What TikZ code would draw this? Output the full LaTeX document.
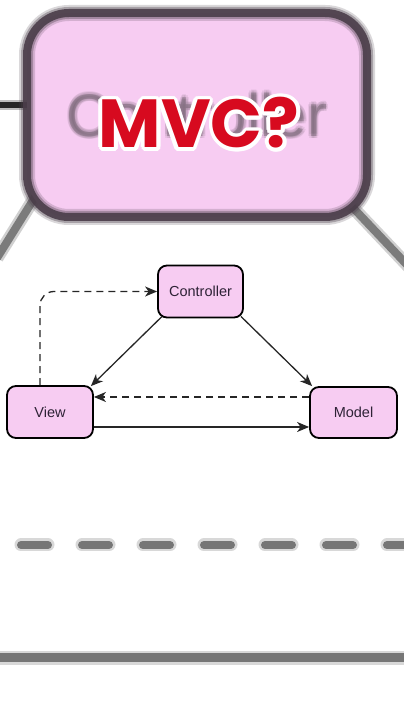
\documentclass[tikz,border=0pt]{standalone}
\usepackage{fontspec}
\setmainfont{Liberation Sans}
\newfontfamily\popfont{Poppins}
\usetikzlibrary{arrows.meta,calc}
\definecolor{pinkfill}{HTML}{F7CCF2}
\definecolor{bdr}{HTML}{4A3D49}
\definecolor{mvcred}{HTML}{D70A1F}
\definecolor{txt}{HTML}{2E2236}
\definecolor{blurtxt}{HTML}{6E5E6C}
\definecolor{lgray}{HTML}{666666}
\begin{document}
\begin{tikzpicture}[x=1pt,y=1pt,
  box/.style={draw=black, line width=1.8pt, fill=pinkfill, rounded corners=9pt,
    minimum width=85pt, minimum height=52pt, inner sep=0pt,
    font=\fontsize{14.5}{17}\selectfont, text=txt},
  conn/.style={line width=1.3pt, draw=black!85, -{Stealth[length=12pt,width=10pt,inset=3.5pt]}},
  dconn/.style={conn, dash pattern=on 7pt off 5pt},
  blurline/.style={draw=lgray, line width=8pt},
  blurhalo/.style={draw=lgray, line width=13pt, opacity=0.3},
  bigtxt/.style={font=\fontsize{60}{70}\selectfont, text=blurtxt, inner sep=0pt},
  mvc/.style={font=\popfont\bfseries\fontsize{68}{76}\selectfont, inner sep=0pt, anchor=base}
]
\useasboundingbox (0,0) rectangle (404,720);
\fill[white] (0,0) rectangle (404,720);

% ---------- blurred background (top) ----------
\draw[blurhalo] (45,539) -- (-3,462);
\draw[blurline, opacity=0.8] (45,539) -- (-3,462);
\draw[blurhalo] (340,526) -- (410,452);
\draw[blurline, opacity=0.8] (340,526) -- (410,452);
\draw[draw=black!85, line width=10pt, opacity=0.3] (-2,615) -- (30,615);
\draw[draw=black!85, line width=6pt] (-2,615) -- (30,615);

\fill[pinkfill, rounded corners=42pt] (27,503) rectangle (367,707);
\draw[bdr, line width=16pt, opacity=0.2, rounded corners=42pt] (27,503) rectangle (367,707);
\draw[bdr, line width=12pt, opacity=0.35, rounded corners=42pt] (27,503) rectangle (367,707);
\draw[bdr, line width=8pt, opacity=0.9, rounded corners=42pt] (27,503) rectangle (367,707);

\foreach \a in {0,45,...,315}
  \node[bigtxt, opacity=0.12] at ($(197,605)+(\a:2.5)$) {Controller};
\node[bigtxt, opacity=0.45] (bigctrl) at (197,605) {Controller};

% MVC? with white outline
\foreach \a in {0,22.5,...,337.5}
  \node[mvc, text=white] at ($(199,572)+(\a:3.8)$) {MVC?};
\node[mvc, text=mvcred] (title) at (199,572) {MVC?};

% ---------- crisp diagram ----------
\node[box] (C) at (200.5,428.5) {Controller};
\node[box, minimum width=86pt] (V) at (50,308) {View};
\node[box, minimum width=87pt, minimum height=51pt] (M) at (353.5,307.5) {Model};

\draw[conn] ($(C.south west)+(5,2)$) -- ($(V.north east)+(-3,-1)$);
\draw[conn] ($(C.south east)+(-3,2)$) -- ($(M.north west)+(3,0)$);
\draw[dconn] ($(M.west)+(0,15.5)$) -- ($(V.east)+(0,15)$);
\draw[conn] ($(V.east)+(0,-15)$) -- ($(M.west)+(0,-14.5)$);
\draw[dconn, rounded corners=14pt] ($(V.north)+(-10,0)$) |- (C.west);

% ---------- blurred background (bottom) ----------
\draw[lgray, line width=13pt, opacity=0.25, line cap=round, dash pattern=on 27pt off 34pt] (21,175) -- (404,175);
\draw[lgray, line width=8pt, opacity=0.85, line cap=round, dash pattern=on 27pt off 34pt] (21,175) -- (404,175);
\draw[lgray, line width=14pt, opacity=0.25] (-2,62) -- (406,62);
\draw[lgray, line width=9pt, opacity=0.85] (-2,62) -- (406,62);
\end{tikzpicture}
\end{document}
